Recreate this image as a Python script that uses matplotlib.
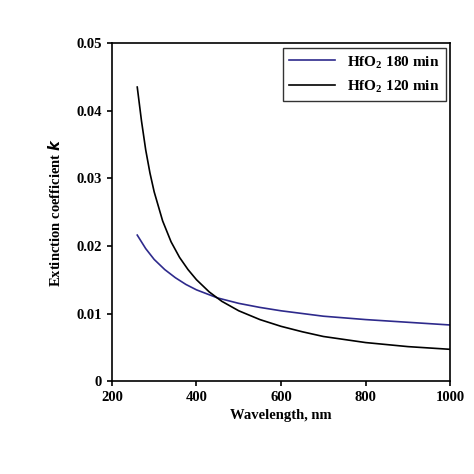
import matplotlib.pyplot as plt

plt.rcParams['font.family'] = ['Liberation Serif', 'DejaVu Serif']
plt.rcParams['font.weight'] = 'bold'
plt.rcParams['mathtext.fontset'] = 'custom'
plt.rcParams['mathtext.rm'] = 'Liberation Serif:bold'

wl_120 = [260, 270, 280, 290, 300, 320, 340, 360, 380, 400, 430, 460, 500, 550, 600, 650, 700, 800, 900, 1000]
k_120 = [0.0435, 0.0385, 0.0342, 0.0308, 0.0280, 0.0237, 0.0206, 0.0183, 0.0165, 0.0150, 0.0132, 0.0118, 0.0104, 0.0091, 0.0081, 0.0073, 0.0066, 0.0057, 0.0051, 0.0047]
wl_180 = [260, 280, 300, 325, 350, 375, 400, 450, 500, 550, 600, 700, 800, 900, 1000]
k_180 = [0.0216, 0.0196, 0.0180, 0.0165, 0.0153, 0.0143, 0.0135, 0.0123, 0.0115, 0.0109, 0.0104, 0.0096, 0.0091, 0.0087, 0.0083]

fig, ax = plt.subplots(figsize=(4.74, 4.74), dpi=100)
fig.subplots_adjust(left=0.236, right=0.95, bottom=0.196, top=0.909)

ax.plot(wl_180, k_180, color='#2e2a8c', lw=1.2, label='HfO$_2$ 180 min')
ax.plot(wl_120, k_120, color='black', lw=1.2, label='HfO$_2$ 120 min')

ax.set_xlim(200, 1000)
ax.set_ylim(0, 0.05)
ax.set_xticks([200, 400, 600, 800, 1000])
ax.set_yticks([0, 0.01, 0.02, 0.03, 0.04, 0.05])
ax.set_yticklabels(['0', '0.01', '0.02', '0.03', '0.04', '0.05'])
ax.tick_params(labelsize=10.5, width=1.2)
for s in ax.spines.values():
    s.set_linewidth(1.2)

ax.set_xlabel('Wavelength, nm', fontsize=10.5, fontweight='bold')
ax.set_ylabel('Extinction coefficient $\\mathit{k}$', fontsize=10.5, fontweight='bold', labelpad=10)

leg = ax.legend(loc='upper right', fontsize=11, frameon=True, fancybox=False,
                edgecolor='black', handlelength=3, borderaxespad=0.3)
leg.get_frame().set_linewidth(1.0)

fig.savefig('out.png', dpi=100)
